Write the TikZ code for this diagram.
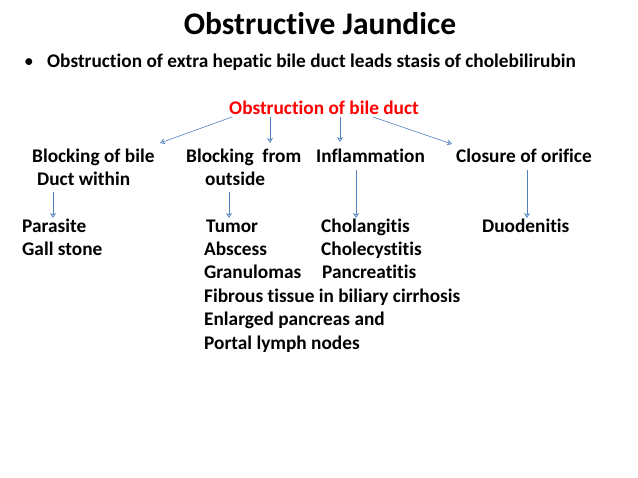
\documentclass[tikz,border=0pt]{standalone}
\usepackage{fontspec}
\setmainfont{Carlito}[Ligatures=NoCommon]
\usetikzlibrary{arrows.meta}
\definecolor{arrc}{RGB}{79,129,189}
\tikzset{
 t/.style={anchor=base west,inner sep=0pt,font=\fontsize{19.3}{22}\selectfont\bfseries},
 arr/.style={-{Stealth[length=5pt,width=6pt,open]},draw=arrc,line width=0.6pt}
}
\begin{document}
\begin{tikzpicture}[x=1pt,y=-1pt]
\useasboundingbox (0,0) rectangle (638,478);
\node[inner sep=0pt,anchor=base,font=\fontsize{31.5}{34}\selectfont\bfseries] (title) at (320,35) {Obstructive Jaundice};
\node[t,font=\fontsize{19.3}{22}\selectfont] (bul) at (24,68) {•};
\node[t] (intro) at (47,68) {Obstruction of extra hepatic bile duct leads stasis of cholebilirubin};
\node[t,anchor=base,text=red] (obs) at (324,115) {Obstruction of bile duct};
\node[t] (b1) at (32,163) {Blocking of bile};
\node[t] (b1b) at (37,186) {Duct within};
\node[t] (b2) at (186,163) {Blocking~ from};
\node[t] (b2b) at (205,186) {outside};
\node[t] (b3) at (316,163) {Inflammation};
\node[t] (b4) at (456,163) {Closure of orifice};
\node[t] (p1) at (22,233) {Parasite};
\node[t] (p2) at (22,256) {Gall stone};
\node[t] (t1) at (206,233) {Tumor};
\node[t] (t2) at (204,256) {Abscess};
\node[t] (t3) at (204,279) {Granulomas};
\node[t] (t4) at (204,303) {Fibrous tissue in biliary cirrhosis};
\node[t] (t5) at (204,326) {Enlarged pancreas and};
\node[t] (t6) at (204,350) {Portal lymph nodes};
\node[t] (c1) at (321,233) {Cholangitis};
\node[t] (c2) at (321,256) {Cholecystitis};
\node[t] (c3) at (322,279) {Pancreatitis};
\node[t] (d1) at (482,233) {Duodenitis};
\coordinate (o1) at (232,117); \coordinate (e1) at (160,143);
\coordinate (o2) at (270,117); \coordinate (e2) at (270,143);
\coordinate (o3) at (340,117); \coordinate (e3) at (340,142);
\coordinate (o4) at (373,117); \coordinate (e4) at (452,144);
\draw[arr] (o1)--(e1); \draw[arr] (o2)--(e2); \draw[arr] (o3)--(e3); \draw[arr] (o4)--(e4);
\coordinate (s1) at (53,192); \coordinate (f1) at (53,218);
\coordinate (s2) at (229,192); \coordinate (f2) at (229,218);
\coordinate (s3) at (356,170); \coordinate (f3) at (356,218);
\coordinate (s4) at (527,170); \coordinate (f4) at (527,218);
\draw[arr] (s1)--(f1); \draw[arr] (s2)--(f2); \draw[arr] (s3)--(f3); \draw[arr] (s4)--(f4);
\end{tikzpicture}
\end{document}
